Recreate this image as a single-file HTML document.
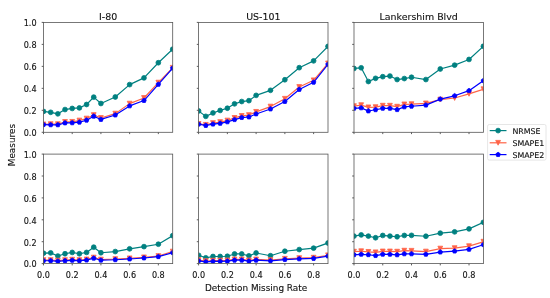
<!DOCTYPE html>
<html><head><meta charset="utf-8"><title>Detection Missing Rate</title>
<style>
html,body{margin:0;padding:0;background:#fff;width:550px;height:298px;overflow:hidden}
svg text{font-family:'DejaVu Sans', 'Liberation Sans', sans-serif;font-size:8.1px;fill:#111;stroke:#111;stroke-width:0.12px}
svg text.t{font-size:9.45px}
svg text.l{font-size:8.9px}
svg text.g{font-size:7.9px}
</style></head><body>
<svg width="550" height="298" viewBox="0 0 550 298" style="display:block">
<rect width="550" height="298" fill="#fff"/>
<defs><filter id="bl" x="0" y="0" width="1" height="1"><feGaussianBlur stdDeviation="0.4"/></filter>
<clipPath id="c00"><rect x="43.5" y="22.4" width="129.2" height="109.9"/></clipPath>
<clipPath id="c01"><rect x="198.6" y="22.4" width="129.4" height="109.9"/></clipPath>
<clipPath id="c02"><rect x="354" y="22.4" width="129.4" height="109.9"/></clipPath>
<clipPath id="c10"><rect x="43.5" y="154.1" width="129.2" height="109.5"/></clipPath>
<clipPath id="c11"><rect x="198.6" y="154.1" width="129.4" height="109.5"/></clipPath>
<clipPath id="c12"><rect x="354" y="154.1" width="129.4" height="109.5"/></clipPath>
</defs>
<g filter="url(#bl)">
<rect width="550" height="298" fill="#fff"/>
<g clip-path="url(#c00)">
<polyline points="43.5,111.42 50.68,112.3 57.86,113.84 65.03,109.55 72.21,108.45 79.39,107.9 86.57,104.5 93.74,97.13 100.92,103.51 115.28,97.02 129.63,84.6 143.99,77.9 158.34,62.73 172.7,49.22" fill="none" stroke="#008080" stroke-width="1.2" stroke-linejoin="round" stroke-linecap="square"/>
<circle cx="43.5" cy="111.42" r="2.4" fill="#008080" stroke="#008080" stroke-width="0.8"/>
<circle cx="50.68" cy="112.3" r="2.4" fill="#008080" stroke="#008080" stroke-width="0.8"/>
<circle cx="57.86" cy="113.84" r="2.4" fill="#008080" stroke="#008080" stroke-width="0.8"/>
<circle cx="65.03" cy="109.55" r="2.4" fill="#008080" stroke="#008080" stroke-width="0.8"/>
<circle cx="72.21" cy="108.45" r="2.4" fill="#008080" stroke="#008080" stroke-width="0.8"/>
<circle cx="79.39" cy="107.9" r="2.4" fill="#008080" stroke="#008080" stroke-width="0.8"/>
<circle cx="86.57" cy="104.5" r="2.4" fill="#008080" stroke="#008080" stroke-width="0.8"/>
<circle cx="93.74" cy="97.13" r="2.4" fill="#008080" stroke="#008080" stroke-width="0.8"/>
<circle cx="100.92" cy="103.51" r="2.4" fill="#008080" stroke="#008080" stroke-width="0.8"/>
<circle cx="115.28" cy="97.02" r="2.4" fill="#008080" stroke="#008080" stroke-width="0.8"/>
<circle cx="129.63" cy="84.6" r="2.4" fill="#008080" stroke="#008080" stroke-width="0.8"/>
<circle cx="143.99" cy="77.9" r="2.4" fill="#008080" stroke="#008080" stroke-width="0.8"/>
<circle cx="158.34" cy="62.73" r="2.4" fill="#008080" stroke="#008080" stroke-width="0.8"/>
<circle cx="172.7" cy="49.22" r="2.4" fill="#008080" stroke="#008080" stroke-width="0.8"/>
<polyline points="43.5,124.39 50.68,124.17 57.86,124.17 65.03,121.97 72.21,121.86 79.39,120.54 86.57,118.56 93.74,115.05 100.92,118.01 115.28,113.62 129.63,103.62 143.99,98.01 158.34,82.63 172.7,67.79" fill="none" stroke="#ff6347" stroke-width="1.2" stroke-linejoin="round" stroke-linecap="square"/>
<polygon points="41.1,121.99 45.9,121.99 43.5,126.79" fill="#ff6347" stroke="#ff6347" stroke-width="0.8" stroke-linejoin="miter"/>
<polygon points="48.28,121.77 53.08,121.77 50.68,126.57" fill="#ff6347" stroke="#ff6347" stroke-width="0.8" stroke-linejoin="miter"/>
<polygon points="55.46,121.77 60.26,121.77 57.86,126.57" fill="#ff6347" stroke="#ff6347" stroke-width="0.8" stroke-linejoin="miter"/>
<polygon points="62.63,119.57 67.43,119.57 65.03,124.37" fill="#ff6347" stroke="#ff6347" stroke-width="0.8" stroke-linejoin="miter"/>
<polygon points="69.81,119.46 74.61,119.46 72.21,124.26" fill="#ff6347" stroke="#ff6347" stroke-width="0.8" stroke-linejoin="miter"/>
<polygon points="76.99,118.14 81.79,118.14 79.39,122.94" fill="#ff6347" stroke="#ff6347" stroke-width="0.8" stroke-linejoin="miter"/>
<polygon points="84.17,116.16 88.97,116.16 86.57,120.96" fill="#ff6347" stroke="#ff6347" stroke-width="0.8" stroke-linejoin="miter"/>
<polygon points="91.34,112.65 96.14,112.65 93.74,117.45" fill="#ff6347" stroke="#ff6347" stroke-width="0.8" stroke-linejoin="miter"/>
<polygon points="98.52,115.61 103.32,115.61 100.92,120.41" fill="#ff6347" stroke="#ff6347" stroke-width="0.8" stroke-linejoin="miter"/>
<polygon points="112.88,111.22 117.68,111.22 115.28,116.02" fill="#ff6347" stroke="#ff6347" stroke-width="0.8" stroke-linejoin="miter"/>
<polygon points="127.23,101.22 132.03,101.22 129.63,106.02" fill="#ff6347" stroke="#ff6347" stroke-width="0.8" stroke-linejoin="miter"/>
<polygon points="141.59,95.61 146.39,95.61 143.99,100.41" fill="#ff6347" stroke="#ff6347" stroke-width="0.8" stroke-linejoin="miter"/>
<polygon points="155.94,80.23 160.74,80.23 158.34,85.03" fill="#ff6347" stroke="#ff6347" stroke-width="0.8" stroke-linejoin="miter"/>
<polygon points="170.3,65.39 175.1,65.39 172.7,70.19" fill="#ff6347" stroke="#ff6347" stroke-width="0.8" stroke-linejoin="miter"/>
<polyline points="43.5,124.61 50.68,124.83 57.86,124.83 65.03,122.96 72.21,122.85 79.39,122.19 86.57,120.21 93.74,116.25 100.92,119.44 115.28,115.05 129.63,105.92 143.99,100.54 158.34,84.38 172.7,68.12" fill="none" stroke="#0000ff" stroke-width="1.2" stroke-linejoin="round" stroke-linecap="square"/>
<polygon points="43.5,122.21 45.78,123.87 44.91,126.55 42.09,126.55 41.22,123.87" fill="#0000ff" stroke="#0000ff" stroke-width="0.8" stroke-linejoin="miter"/>
<polygon points="50.68,122.43 52.96,124.09 52.09,126.77 49.27,126.77 48.4,124.09" fill="#0000ff" stroke="#0000ff" stroke-width="0.8" stroke-linejoin="miter"/>
<polygon points="57.86,122.43 60.14,124.09 59.27,126.77 56.44,126.77 55.57,124.09" fill="#0000ff" stroke="#0000ff" stroke-width="0.8" stroke-linejoin="miter"/>
<polygon points="65.03,120.56 67.32,122.22 66.44,124.9 63.62,124.9 62.75,122.22" fill="#0000ff" stroke="#0000ff" stroke-width="0.8" stroke-linejoin="miter"/>
<polygon points="72.21,120.45 74.49,122.11 73.62,124.79 70.8,124.79 69.93,122.11" fill="#0000ff" stroke="#0000ff" stroke-width="0.8" stroke-linejoin="miter"/>
<polygon points="79.39,119.79 81.67,121.45 80.8,124.13 77.98,124.13 77.11,121.45" fill="#0000ff" stroke="#0000ff" stroke-width="0.8" stroke-linejoin="miter"/>
<polygon points="86.57,117.81 88.85,119.47 87.98,122.15 85.16,122.15 84.28,119.47" fill="#0000ff" stroke="#0000ff" stroke-width="0.8" stroke-linejoin="miter"/>
<polygon points="93.74,113.85 96.03,115.51 95.16,118.2 92.33,118.2 91.46,115.51" fill="#0000ff" stroke="#0000ff" stroke-width="0.8" stroke-linejoin="miter"/>
<polygon points="100.92,117.04 103.2,118.7 102.33,121.38 99.51,121.38 98.64,118.7" fill="#0000ff" stroke="#0000ff" stroke-width="0.8" stroke-linejoin="miter"/>
<polygon points="115.28,112.65 117.56,114.3 116.69,116.99 113.87,116.99 113,114.3" fill="#0000ff" stroke="#0000ff" stroke-width="0.8" stroke-linejoin="miter"/>
<polygon points="129.63,103.52 131.92,105.18 131.04,107.87 128.22,107.87 127.35,105.18" fill="#0000ff" stroke="#0000ff" stroke-width="0.8" stroke-linejoin="miter"/>
<polygon points="143.99,98.14 146.27,99.8 145.4,102.48 142.58,102.48 141.71,99.8" fill="#0000ff" stroke="#0000ff" stroke-width="0.8" stroke-linejoin="miter"/>
<polygon points="158.34,81.98 160.63,83.64 159.76,86.33 156.93,86.33 156.06,83.64" fill="#0000ff" stroke="#0000ff" stroke-width="0.8" stroke-linejoin="miter"/>
<polygon points="172.7,65.72 174.98,67.38 174.11,70.06 171.29,70.06 170.42,67.38" fill="#0000ff" stroke="#0000ff" stroke-width="0.8" stroke-linejoin="miter"/>
</g>
<path d="M41.7 132.3H43.5M41.7 110.32H43.5M41.7 88.34H43.5M41.7 66.36H43.5M41.7 44.38H43.5M41.7 22.4H43.5M43.5 132.3V134.1M72.21 132.3V134.1M100.92 132.3V134.1M129.63 132.3V134.1M158.34 132.3V134.1" stroke="#333" stroke-width="0.8" fill="none"/>
<rect x="43.5" y="22.4" width="129.2" height="109.9" fill="none" stroke="#555" stroke-width="0.8"/>
<text x="36.6" y="136.1" text-anchor="end">0.0</text>
<text x="36.6" y="114.12" text-anchor="end">0.2</text>
<text x="36.6" y="92.14" text-anchor="end">0.4</text>
<text x="36.6" y="70.16" text-anchor="end">0.6</text>
<text x="36.6" y="48.18" text-anchor="end">0.8</text>
<text x="36.6" y="26.2" text-anchor="end">1.0</text>
<text class="t" x="108.1" y="19.5" text-anchor="middle">I-80</text>
<g clip-path="url(#c01)">
<polyline points="198.6,110.98 205.79,116.36 212.98,112.96 220.17,110.43 227.36,108.23 234.54,103.84 241.73,101.53 248.92,100.65 256.11,95.37 270.49,90.32 284.87,79.77 299.24,67.68 313.62,60.87 328,46.36" fill="none" stroke="#008080" stroke-width="1.2" stroke-linejoin="round" stroke-linecap="square"/>
<circle cx="198.6" cy="110.98" r="2.4" fill="#008080" stroke="#008080" stroke-width="0.8"/>
<circle cx="205.79" cy="116.36" r="2.4" fill="#008080" stroke="#008080" stroke-width="0.8"/>
<circle cx="212.98" cy="112.96" r="2.4" fill="#008080" stroke="#008080" stroke-width="0.8"/>
<circle cx="220.17" cy="110.43" r="2.4" fill="#008080" stroke="#008080" stroke-width="0.8"/>
<circle cx="227.36" cy="108.23" r="2.4" fill="#008080" stroke="#008080" stroke-width="0.8"/>
<circle cx="234.54" cy="103.84" r="2.4" fill="#008080" stroke="#008080" stroke-width="0.8"/>
<circle cx="241.73" cy="101.53" r="2.4" fill="#008080" stroke="#008080" stroke-width="0.8"/>
<circle cx="248.92" cy="100.65" r="2.4" fill="#008080" stroke="#008080" stroke-width="0.8"/>
<circle cx="256.11" cy="95.37" r="2.4" fill="#008080" stroke="#008080" stroke-width="0.8"/>
<circle cx="270.49" cy="90.32" r="2.4" fill="#008080" stroke="#008080" stroke-width="0.8"/>
<circle cx="284.87" cy="79.77" r="2.4" fill="#008080" stroke="#008080" stroke-width="0.8"/>
<circle cx="299.24" cy="67.68" r="2.4" fill="#008080" stroke="#008080" stroke-width="0.8"/>
<circle cx="313.62" cy="60.87" r="2.4" fill="#008080" stroke="#008080" stroke-width="0.8"/>
<circle cx="328" cy="46.36" r="2.4" fill="#008080" stroke="#008080" stroke-width="0.8"/>
<polyline points="198.6,123.95 205.79,124.83 212.98,123.07 220.17,122.08 227.36,120.54 234.54,117.9 241.73,115.92 248.92,115.05 256.11,111.86 270.49,106.58 284.87,98.78 299.24,87.02 313.62,80.32 328,63.39" fill="none" stroke="#ff6347" stroke-width="1.2" stroke-linejoin="round" stroke-linecap="square"/>
<polygon points="196.2,121.55 201,121.55 198.6,126.35" fill="#ff6347" stroke="#ff6347" stroke-width="0.8" stroke-linejoin="miter"/>
<polygon points="203.39,122.43 208.19,122.43 205.79,127.23" fill="#ff6347" stroke="#ff6347" stroke-width="0.8" stroke-linejoin="miter"/>
<polygon points="210.58,120.67 215.38,120.67 212.98,125.47" fill="#ff6347" stroke="#ff6347" stroke-width="0.8" stroke-linejoin="miter"/>
<polygon points="217.77,119.68 222.57,119.68 220.17,124.48" fill="#ff6347" stroke="#ff6347" stroke-width="0.8" stroke-linejoin="miter"/>
<polygon points="224.96,118.14 229.76,118.14 227.36,122.94" fill="#ff6347" stroke="#ff6347" stroke-width="0.8" stroke-linejoin="miter"/>
<polygon points="232.14,115.5 236.94,115.5 234.54,120.3" fill="#ff6347" stroke="#ff6347" stroke-width="0.8" stroke-linejoin="miter"/>
<polygon points="239.33,113.52 244.13,113.52 241.73,118.32" fill="#ff6347" stroke="#ff6347" stroke-width="0.8" stroke-linejoin="miter"/>
<polygon points="246.52,112.65 251.32,112.65 248.92,117.45" fill="#ff6347" stroke="#ff6347" stroke-width="0.8" stroke-linejoin="miter"/>
<polygon points="253.71,109.46 258.51,109.46 256.11,114.26" fill="#ff6347" stroke="#ff6347" stroke-width="0.8" stroke-linejoin="miter"/>
<polygon points="268.09,104.18 272.89,104.18 270.49,108.98" fill="#ff6347" stroke="#ff6347" stroke-width="0.8" stroke-linejoin="miter"/>
<polygon points="282.47,96.38 287.27,96.38 284.87,101.18" fill="#ff6347" stroke="#ff6347" stroke-width="0.8" stroke-linejoin="miter"/>
<polygon points="296.84,84.62 301.64,84.62 299.24,89.42" fill="#ff6347" stroke="#ff6347" stroke-width="0.8" stroke-linejoin="miter"/>
<polygon points="311.22,77.92 316.02,77.92 313.62,82.72" fill="#ff6347" stroke="#ff6347" stroke-width="0.8" stroke-linejoin="miter"/>
<polygon points="325.6,60.99 330.4,60.99 328,65.79" fill="#ff6347" stroke="#ff6347" stroke-width="0.8" stroke-linejoin="miter"/>
<polyline points="198.6,124.17 205.79,125.49 212.98,124.17 220.17,123.4 227.36,121.86 234.54,119.66 241.73,117.57 248.92,117.02 256.11,113.95 270.49,109 284.87,101.53 299.24,89.44 313.62,82.3 328,64.38" fill="none" stroke="#0000ff" stroke-width="1.2" stroke-linejoin="round" stroke-linecap="square"/>
<polygon points="198.6,121.77 200.88,123.43 200.01,126.11 197.19,126.11 196.32,123.43" fill="#0000ff" stroke="#0000ff" stroke-width="0.8" stroke-linejoin="miter"/>
<polygon points="205.79,123.09 208.07,124.74 207.2,127.43 204.38,127.43 203.51,124.74" fill="#0000ff" stroke="#0000ff" stroke-width="0.8" stroke-linejoin="miter"/>
<polygon points="212.98,121.77 215.26,123.43 214.39,126.11 211.57,126.11 210.7,123.43" fill="#0000ff" stroke="#0000ff" stroke-width="0.8" stroke-linejoin="miter"/>
<polygon points="220.17,121 222.45,122.66 221.58,125.34 218.76,125.34 217.88,122.66" fill="#0000ff" stroke="#0000ff" stroke-width="0.8" stroke-linejoin="miter"/>
<polygon points="227.36,119.46 229.64,121.12 228.77,123.8 225.94,123.8 225.07,121.12" fill="#0000ff" stroke="#0000ff" stroke-width="0.8" stroke-linejoin="miter"/>
<polygon points="234.54,117.26 236.83,118.92 235.96,121.6 233.13,121.6 232.26,118.92" fill="#0000ff" stroke="#0000ff" stroke-width="0.8" stroke-linejoin="miter"/>
<polygon points="241.73,115.17 244.02,116.83 243.14,119.52 240.32,119.52 239.45,116.83" fill="#0000ff" stroke="#0000ff" stroke-width="0.8" stroke-linejoin="miter"/>
<polygon points="248.92,114.62 251.2,116.28 250.33,118.97 247.51,118.97 246.64,116.28" fill="#0000ff" stroke="#0000ff" stroke-width="0.8" stroke-linejoin="miter"/>
<polygon points="256.11,111.55 258.39,113.21 257.52,115.89 254.7,115.89 253.83,113.21" fill="#0000ff" stroke="#0000ff" stroke-width="0.8" stroke-linejoin="miter"/>
<polygon points="270.49,106.6 272.77,108.26 271.9,110.94 269.08,110.94 268.21,108.26" fill="#0000ff" stroke="#0000ff" stroke-width="0.8" stroke-linejoin="miter"/>
<polygon points="284.87,99.13 287.15,100.79 286.28,103.47 283.46,103.47 282.58,100.79" fill="#0000ff" stroke="#0000ff" stroke-width="0.8" stroke-linejoin="miter"/>
<polygon points="299.24,87.04 301.53,88.7 300.66,91.38 297.83,91.38 296.96,88.7" fill="#0000ff" stroke="#0000ff" stroke-width="0.8" stroke-linejoin="miter"/>
<polygon points="313.62,79.9 315.9,81.55 315.03,84.24 312.21,84.24 311.34,81.55" fill="#0000ff" stroke="#0000ff" stroke-width="0.8" stroke-linejoin="miter"/>
<polygon points="328,61.98 330.28,63.64 329.41,66.32 326.59,66.32 325.72,63.64" fill="#0000ff" stroke="#0000ff" stroke-width="0.8" stroke-linejoin="miter"/>
</g>
<path d="M196.8 132.3H198.6M196.8 110.32H198.6M196.8 88.34H198.6M196.8 66.36H198.6M196.8 44.38H198.6M196.8 22.4H198.6M198.6 132.3V134.1M227.36 132.3V134.1M256.11 132.3V134.1M284.87 132.3V134.1M313.62 132.3V134.1" stroke="#333" stroke-width="0.8" fill="none"/>
<rect x="198.6" y="22.4" width="129.4" height="109.9" fill="none" stroke="#555" stroke-width="0.8"/>
<text class="t" x="263.3" y="19.5" text-anchor="middle">US-101</text>
<g clip-path="url(#c02)">
<polyline points="354,68.45 361.19,67.79 368.38,81.53 375.57,78.34 382.76,76.69 389.94,76.03 397.13,79.55 404.32,78.56 411.51,77.24 425.89,79.55 440.27,69 454.64,65.15 469.02,59.44 483.4,46.25" fill="none" stroke="#008080" stroke-width="1.2" stroke-linejoin="round" stroke-linecap="square"/>
<circle cx="354" cy="68.45" r="2.4" fill="#008080" stroke="#008080" stroke-width="0.8"/>
<circle cx="361.19" cy="67.79" r="2.4" fill="#008080" stroke="#008080" stroke-width="0.8"/>
<circle cx="368.38" cy="81.53" r="2.4" fill="#008080" stroke="#008080" stroke-width="0.8"/>
<circle cx="375.57" cy="78.34" r="2.4" fill="#008080" stroke="#008080" stroke-width="0.8"/>
<circle cx="382.76" cy="76.69" r="2.4" fill="#008080" stroke="#008080" stroke-width="0.8"/>
<circle cx="389.94" cy="76.03" r="2.4" fill="#008080" stroke="#008080" stroke-width="0.8"/>
<circle cx="397.13" cy="79.55" r="2.4" fill="#008080" stroke="#008080" stroke-width="0.8"/>
<circle cx="404.32" cy="78.56" r="2.4" fill="#008080" stroke="#008080" stroke-width="0.8"/>
<circle cx="411.51" cy="77.24" r="2.4" fill="#008080" stroke="#008080" stroke-width="0.8"/>
<circle cx="425.89" cy="79.55" r="2.4" fill="#008080" stroke="#008080" stroke-width="0.8"/>
<circle cx="440.27" cy="69" r="2.4" fill="#008080" stroke="#008080" stroke-width="0.8"/>
<circle cx="454.64" cy="65.15" r="2.4" fill="#008080" stroke="#008080" stroke-width="0.8"/>
<circle cx="469.02" cy="59.44" r="2.4" fill="#008080" stroke="#008080" stroke-width="0.8"/>
<circle cx="483.4" cy="46.25" r="2.4" fill="#008080" stroke="#008080" stroke-width="0.8"/>
<polyline points="354,106.14 361.19,105.15 368.38,107.35 375.57,107.13 382.76,105.7 389.94,105.7 397.13,106.69 404.32,104.39 411.51,104.17 425.89,103.4 440.27,99.55 454.64,98.01 469.02,93.84 483.4,89.22" fill="none" stroke="#ff6347" stroke-width="1.2" stroke-linejoin="round" stroke-linecap="square"/>
<polygon points="351.6,103.74 356.4,103.74 354,108.54" fill="#ff6347" stroke="#ff6347" stroke-width="0.8" stroke-linejoin="miter"/>
<polygon points="358.79,102.75 363.59,102.75 361.19,107.55" fill="#ff6347" stroke="#ff6347" stroke-width="0.8" stroke-linejoin="miter"/>
<polygon points="365.98,104.95 370.78,104.95 368.38,109.75" fill="#ff6347" stroke="#ff6347" stroke-width="0.8" stroke-linejoin="miter"/>
<polygon points="373.17,104.73 377.97,104.73 375.57,109.53" fill="#ff6347" stroke="#ff6347" stroke-width="0.8" stroke-linejoin="miter"/>
<polygon points="380.36,103.3 385.16,103.3 382.76,108.1" fill="#ff6347" stroke="#ff6347" stroke-width="0.8" stroke-linejoin="miter"/>
<polygon points="387.54,103.3 392.34,103.3 389.94,108.1" fill="#ff6347" stroke="#ff6347" stroke-width="0.8" stroke-linejoin="miter"/>
<polygon points="394.73,104.29 399.53,104.29 397.13,109.09" fill="#ff6347" stroke="#ff6347" stroke-width="0.8" stroke-linejoin="miter"/>
<polygon points="401.92,101.99 406.72,101.99 404.32,106.79" fill="#ff6347" stroke="#ff6347" stroke-width="0.8" stroke-linejoin="miter"/>
<polygon points="409.11,101.77 413.91,101.77 411.51,106.57" fill="#ff6347" stroke="#ff6347" stroke-width="0.8" stroke-linejoin="miter"/>
<polygon points="423.49,101 428.29,101 425.89,105.8" fill="#ff6347" stroke="#ff6347" stroke-width="0.8" stroke-linejoin="miter"/>
<polygon points="437.87,97.15 442.67,97.15 440.27,101.95" fill="#ff6347" stroke="#ff6347" stroke-width="0.8" stroke-linejoin="miter"/>
<polygon points="452.24,95.61 457.04,95.61 454.64,100.41" fill="#ff6347" stroke="#ff6347" stroke-width="0.8" stroke-linejoin="miter"/>
<polygon points="466.62,91.44 471.42,91.44 469.02,96.24" fill="#ff6347" stroke="#ff6347" stroke-width="0.8" stroke-linejoin="miter"/>
<polygon points="481,86.82 485.8,86.82 483.4,91.62" fill="#ff6347" stroke="#ff6347" stroke-width="0.8" stroke-linejoin="miter"/>
<polyline points="354,108.34 361.19,107.9 368.38,110.98 375.57,109.77 382.76,108.34 389.94,108.34 397.13,109.66 404.32,106.91 411.51,106.25 425.89,105.15 440.27,99.11 454.64,95.81 469.02,90.65 483.4,80.65" fill="none" stroke="#0000ff" stroke-width="1.2" stroke-linejoin="round" stroke-linecap="square"/>
<polygon points="354,105.94 356.28,107.6 355.41,110.28 352.59,110.28 351.72,107.6" fill="#0000ff" stroke="#0000ff" stroke-width="0.8" stroke-linejoin="miter"/>
<polygon points="361.19,105.5 363.47,107.16 362.6,109.84 359.78,109.84 358.91,107.16" fill="#0000ff" stroke="#0000ff" stroke-width="0.8" stroke-linejoin="miter"/>
<polygon points="368.38,108.58 370.66,110.24 369.79,112.92 366.97,112.92 366.1,110.24" fill="#0000ff" stroke="#0000ff" stroke-width="0.8" stroke-linejoin="miter"/>
<polygon points="375.57,107.37 377.85,109.03 376.98,111.71 374.16,111.71 373.28,109.03" fill="#0000ff" stroke="#0000ff" stroke-width="0.8" stroke-linejoin="miter"/>
<polygon points="382.76,105.94 385.04,107.6 384.17,110.28 381.34,110.28 380.47,107.6" fill="#0000ff" stroke="#0000ff" stroke-width="0.8" stroke-linejoin="miter"/>
<polygon points="389.94,105.94 392.23,107.6 391.36,110.28 388.53,110.28 387.66,107.6" fill="#0000ff" stroke="#0000ff" stroke-width="0.8" stroke-linejoin="miter"/>
<polygon points="397.13,107.26 399.42,108.92 398.54,111.6 395.72,111.6 394.85,108.92" fill="#0000ff" stroke="#0000ff" stroke-width="0.8" stroke-linejoin="miter"/>
<polygon points="404.32,104.51 406.6,106.17 405.73,108.85 402.91,108.85 402.04,106.17" fill="#0000ff" stroke="#0000ff" stroke-width="0.8" stroke-linejoin="miter"/>
<polygon points="411.51,103.85 413.79,105.51 412.92,108.2 410.1,108.2 409.23,105.51" fill="#0000ff" stroke="#0000ff" stroke-width="0.8" stroke-linejoin="miter"/>
<polygon points="425.89,102.75 428.17,104.41 427.3,107.1 424.48,107.1 423.61,104.41" fill="#0000ff" stroke="#0000ff" stroke-width="0.8" stroke-linejoin="miter"/>
<polygon points="440.27,96.71 442.55,98.37 441.68,101.05 438.86,101.05 437.98,98.37" fill="#0000ff" stroke="#0000ff" stroke-width="0.8" stroke-linejoin="miter"/>
<polygon points="454.64,93.41 456.93,95.07 456.06,97.75 453.23,97.75 452.36,95.07" fill="#0000ff" stroke="#0000ff" stroke-width="0.8" stroke-linejoin="miter"/>
<polygon points="469.02,88.25 471.3,89.91 470.43,92.59 467.61,92.59 466.74,89.91" fill="#0000ff" stroke="#0000ff" stroke-width="0.8" stroke-linejoin="miter"/>
<polygon points="483.4,78.25 485.68,79.91 484.81,82.59 481.99,82.59 481.12,79.91" fill="#0000ff" stroke="#0000ff" stroke-width="0.8" stroke-linejoin="miter"/>
</g>
<path d="M352.2 132.3H354M352.2 110.32H354M352.2 88.34H354M352.2 66.36H354M352.2 44.38H354M352.2 22.4H354M354 132.3V134.1M382.76 132.3V134.1M411.51 132.3V134.1M440.27 132.3V134.1M469.02 132.3V134.1" stroke="#333" stroke-width="0.8" fill="none"/>
<rect x="354" y="22.4" width="129.4" height="109.9" fill="none" stroke="#555" stroke-width="0.8"/>
<text class="t" x="418.7" y="19.5" text-anchor="middle">Lankershim Blvd</text>
<g clip-path="url(#c10)">
<polyline points="43.5,253.2 50.68,252.87 57.86,256.04 65.03,253.75 72.21,252.43 79.39,253.75 86.57,252.43 93.74,247.18 100.92,252.76 115.28,251.56 129.63,248.82 143.99,246.63 158.34,244.22 172.7,235.68" fill="none" stroke="#008080" stroke-width="1.2" stroke-linejoin="round" stroke-linecap="square"/>
<circle cx="43.5" cy="253.2" r="2.4" fill="#008080" stroke="#008080" stroke-width="0.8"/>
<circle cx="50.68" cy="252.87" r="2.4" fill="#008080" stroke="#008080" stroke-width="0.8"/>
<circle cx="57.86" cy="256.04" r="2.4" fill="#008080" stroke="#008080" stroke-width="0.8"/>
<circle cx="65.03" cy="253.75" r="2.4" fill="#008080" stroke="#008080" stroke-width="0.8"/>
<circle cx="72.21" cy="252.43" r="2.4" fill="#008080" stroke="#008080" stroke-width="0.8"/>
<circle cx="79.39" cy="253.75" r="2.4" fill="#008080" stroke="#008080" stroke-width="0.8"/>
<circle cx="86.57" cy="252.43" r="2.4" fill="#008080" stroke="#008080" stroke-width="0.8"/>
<circle cx="93.74" cy="247.18" r="2.4" fill="#008080" stroke="#008080" stroke-width="0.8"/>
<circle cx="100.92" cy="252.76" r="2.4" fill="#008080" stroke="#008080" stroke-width="0.8"/>
<circle cx="115.28" cy="251.56" r="2.4" fill="#008080" stroke="#008080" stroke-width="0.8"/>
<circle cx="129.63" cy="248.82" r="2.4" fill="#008080" stroke="#008080" stroke-width="0.8"/>
<circle cx="143.99" cy="246.63" r="2.4" fill="#008080" stroke="#008080" stroke-width="0.8"/>
<circle cx="158.34" cy="244.22" r="2.4" fill="#008080" stroke="#008080" stroke-width="0.8"/>
<circle cx="172.7" cy="235.68" r="2.4" fill="#008080" stroke="#008080" stroke-width="0.8"/>
<polyline points="43.5,260.1 50.68,260.1 57.86,260.64 65.03,260.1 72.21,259.66 79.39,260.1 86.57,259.44 93.74,257.58 100.92,259.55 115.28,259.11 129.63,258.34 143.99,257.36 158.34,256.04 172.7,251.56" fill="none" stroke="#ff6347" stroke-width="1.2" stroke-linejoin="round" stroke-linecap="square"/>
<polygon points="41.1,257.7 45.9,257.7 43.5,262.5" fill="#ff6347" stroke="#ff6347" stroke-width="0.8" stroke-linejoin="miter"/>
<polygon points="48.28,257.7 53.08,257.7 50.68,262.5" fill="#ff6347" stroke="#ff6347" stroke-width="0.8" stroke-linejoin="miter"/>
<polygon points="55.46,258.24 60.26,258.24 57.86,263.04" fill="#ff6347" stroke="#ff6347" stroke-width="0.8" stroke-linejoin="miter"/>
<polygon points="62.63,257.7 67.43,257.7 65.03,262.5" fill="#ff6347" stroke="#ff6347" stroke-width="0.8" stroke-linejoin="miter"/>
<polygon points="69.81,257.26 74.61,257.26 72.21,262.06" fill="#ff6347" stroke="#ff6347" stroke-width="0.8" stroke-linejoin="miter"/>
<polygon points="76.99,257.7 81.79,257.7 79.39,262.5" fill="#ff6347" stroke="#ff6347" stroke-width="0.8" stroke-linejoin="miter"/>
<polygon points="84.17,257.04 88.97,257.04 86.57,261.84" fill="#ff6347" stroke="#ff6347" stroke-width="0.8" stroke-linejoin="miter"/>
<polygon points="91.34,255.18 96.14,255.18 93.74,259.98" fill="#ff6347" stroke="#ff6347" stroke-width="0.8" stroke-linejoin="miter"/>
<polygon points="98.52,257.15 103.32,257.15 100.92,261.95" fill="#ff6347" stroke="#ff6347" stroke-width="0.8" stroke-linejoin="miter"/>
<polygon points="112.88,256.71 117.68,256.71 115.28,261.51" fill="#ff6347" stroke="#ff6347" stroke-width="0.8" stroke-linejoin="miter"/>
<polygon points="127.23,255.94 132.03,255.94 129.63,260.74" fill="#ff6347" stroke="#ff6347" stroke-width="0.8" stroke-linejoin="miter"/>
<polygon points="141.59,254.96 146.39,254.96 143.99,259.76" fill="#ff6347" stroke="#ff6347" stroke-width="0.8" stroke-linejoin="miter"/>
<polygon points="155.94,253.64 160.74,253.64 158.34,258.44" fill="#ff6347" stroke="#ff6347" stroke-width="0.8" stroke-linejoin="miter"/>
<polygon points="170.3,249.16 175.1,249.16 172.7,253.96" fill="#ff6347" stroke="#ff6347" stroke-width="0.8" stroke-linejoin="miter"/>
<polyline points="43.5,260.75 50.68,260.75 57.86,261.3 65.03,260.75 72.21,260.31 79.39,260.75 86.57,260.1 93.74,258.23 100.92,260.21 115.28,259.77 129.63,259 143.99,258.02 158.34,256.7 172.7,252.65" fill="none" stroke="#0000ff" stroke-width="1.2" stroke-linejoin="round" stroke-linecap="square"/>
<polygon points="43.5,258.35 45.78,260.01 44.91,262.69 42.09,262.69 41.22,260.01" fill="#0000ff" stroke="#0000ff" stroke-width="0.8" stroke-linejoin="miter"/>
<polygon points="50.68,258.35 52.96,260.01 52.09,262.69 49.27,262.69 48.4,260.01" fill="#0000ff" stroke="#0000ff" stroke-width="0.8" stroke-linejoin="miter"/>
<polygon points="57.86,258.9 60.14,260.56 59.27,263.24 56.44,263.24 55.57,260.56" fill="#0000ff" stroke="#0000ff" stroke-width="0.8" stroke-linejoin="miter"/>
<polygon points="65.03,258.35 67.32,260.01 66.44,262.69 63.62,262.69 62.75,260.01" fill="#0000ff" stroke="#0000ff" stroke-width="0.8" stroke-linejoin="miter"/>
<polygon points="72.21,257.92 74.49,259.57 73.62,262.26 70.8,262.26 69.93,259.57" fill="#0000ff" stroke="#0000ff" stroke-width="0.8" stroke-linejoin="miter"/>
<polygon points="79.39,258.35 81.67,260.01 80.8,262.69 77.98,262.69 77.11,260.01" fill="#0000ff" stroke="#0000ff" stroke-width="0.8" stroke-linejoin="miter"/>
<polygon points="86.57,257.7 88.85,259.35 87.98,262.04 85.16,262.04 84.28,259.35" fill="#0000ff" stroke="#0000ff" stroke-width="0.8" stroke-linejoin="miter"/>
<polygon points="93.74,255.83 96.03,257.49 95.16,260.18 92.33,260.18 91.46,257.49" fill="#0000ff" stroke="#0000ff" stroke-width="0.8" stroke-linejoin="miter"/>
<polygon points="100.92,257.81 103.2,259.46 102.33,262.15 99.51,262.15 98.64,259.46" fill="#0000ff" stroke="#0000ff" stroke-width="0.8" stroke-linejoin="miter"/>
<polygon points="115.28,257.37 117.56,259.03 116.69,261.71 113.87,261.71 113,259.03" fill="#0000ff" stroke="#0000ff" stroke-width="0.8" stroke-linejoin="miter"/>
<polygon points="129.63,256.6 131.92,258.26 131.04,260.94 128.22,260.94 127.35,258.26" fill="#0000ff" stroke="#0000ff" stroke-width="0.8" stroke-linejoin="miter"/>
<polygon points="143.99,255.62 146.27,257.27 145.4,259.96 142.58,259.96 141.71,257.27" fill="#0000ff" stroke="#0000ff" stroke-width="0.8" stroke-linejoin="miter"/>
<polygon points="158.34,254.3 160.63,255.96 159.76,258.64 156.93,258.64 156.06,255.96" fill="#0000ff" stroke="#0000ff" stroke-width="0.8" stroke-linejoin="miter"/>
<polygon points="172.7,250.25 174.98,251.91 174.11,254.59 171.29,254.59 170.42,251.91" fill="#0000ff" stroke="#0000ff" stroke-width="0.8" stroke-linejoin="miter"/>
</g>
<path d="M41.7 263.6H43.5M41.7 241.7H43.5M41.7 219.8H43.5M41.7 197.9H43.5M41.7 176H43.5M41.7 154.1H43.5M43.5 263.6V265.4M72.21 263.6V265.4M100.92 263.6V265.4M129.63 263.6V265.4M158.34 263.6V265.4" stroke="#333" stroke-width="0.8" fill="none"/>
<rect x="43.5" y="154.1" width="129.2" height="109.5" fill="none" stroke="#555" stroke-width="0.8"/>
<text x="36.6" y="267.4" text-anchor="end">0.0</text>
<text x="36.6" y="245.5" text-anchor="end">0.2</text>
<text x="36.6" y="223.6" text-anchor="end">0.4</text>
<text x="36.6" y="201.7" text-anchor="end">0.6</text>
<text x="36.6" y="179.8" text-anchor="end">0.8</text>
<text x="36.6" y="157.9" text-anchor="end">1.0</text>
<text x="43.5" y="277.9" text-anchor="middle">0.0</text>
<text x="72.21" y="277.9" text-anchor="middle">0.2</text>
<text x="100.92" y="277.9" text-anchor="middle">0.4</text>
<text x="129.63" y="277.9" text-anchor="middle">0.6</text>
<text x="158.34" y="277.9" text-anchor="middle">0.8</text>
<g clip-path="url(#c11)">
<polyline points="198.6,255.28 205.79,257.8 212.98,256.48 220.17,256.48 227.36,256.26 234.54,253.96 241.73,253.96 248.92,255.83 256.11,252.98 270.49,255.72 284.87,251.23 299.24,249.58 313.62,248.16 328,243.01" fill="none" stroke="#008080" stroke-width="1.2" stroke-linejoin="round" stroke-linecap="square"/>
<circle cx="198.6" cy="255.28" r="2.4" fill="#008080" stroke="#008080" stroke-width="0.8"/>
<circle cx="205.79" cy="257.8" r="2.4" fill="#008080" stroke="#008080" stroke-width="0.8"/>
<circle cx="212.98" cy="256.48" r="2.4" fill="#008080" stroke="#008080" stroke-width="0.8"/>
<circle cx="220.17" cy="256.48" r="2.4" fill="#008080" stroke="#008080" stroke-width="0.8"/>
<circle cx="227.36" cy="256.26" r="2.4" fill="#008080" stroke="#008080" stroke-width="0.8"/>
<circle cx="234.54" cy="253.96" r="2.4" fill="#008080" stroke="#008080" stroke-width="0.8"/>
<circle cx="241.73" cy="253.96" r="2.4" fill="#008080" stroke="#008080" stroke-width="0.8"/>
<circle cx="248.92" cy="255.83" r="2.4" fill="#008080" stroke="#008080" stroke-width="0.8"/>
<circle cx="256.11" cy="252.98" r="2.4" fill="#008080" stroke="#008080" stroke-width="0.8"/>
<circle cx="270.49" cy="255.72" r="2.4" fill="#008080" stroke="#008080" stroke-width="0.8"/>
<circle cx="284.87" cy="251.23" r="2.4" fill="#008080" stroke="#008080" stroke-width="0.8"/>
<circle cx="299.24" cy="249.58" r="2.4" fill="#008080" stroke="#008080" stroke-width="0.8"/>
<circle cx="313.62" cy="248.16" r="2.4" fill="#008080" stroke="#008080" stroke-width="0.8"/>
<circle cx="328" cy="243.01" r="2.4" fill="#008080" stroke="#008080" stroke-width="0.8"/>
<polyline points="198.6,260.1 205.79,261.08 212.98,260.64 220.17,260.64 227.36,260.42 234.54,259.44 241.73,259.44 248.92,260.42 256.11,259.44 270.49,260.1 284.87,258.78 299.24,258.12 313.62,257.69 328,255.28" fill="none" stroke="#ff6347" stroke-width="1.2" stroke-linejoin="round" stroke-linecap="square"/>
<polygon points="196.2,257.7 201,257.7 198.6,262.5" fill="#ff6347" stroke="#ff6347" stroke-width="0.8" stroke-linejoin="miter"/>
<polygon points="203.39,258.68 208.19,258.68 205.79,263.48" fill="#ff6347" stroke="#ff6347" stroke-width="0.8" stroke-linejoin="miter"/>
<polygon points="210.58,258.24 215.38,258.24 212.98,263.04" fill="#ff6347" stroke="#ff6347" stroke-width="0.8" stroke-linejoin="miter"/>
<polygon points="217.77,258.24 222.57,258.24 220.17,263.04" fill="#ff6347" stroke="#ff6347" stroke-width="0.8" stroke-linejoin="miter"/>
<polygon points="224.96,258.02 229.76,258.02 227.36,262.82" fill="#ff6347" stroke="#ff6347" stroke-width="0.8" stroke-linejoin="miter"/>
<polygon points="232.14,257.04 236.94,257.04 234.54,261.84" fill="#ff6347" stroke="#ff6347" stroke-width="0.8" stroke-linejoin="miter"/>
<polygon points="239.33,257.04 244.13,257.04 241.73,261.84" fill="#ff6347" stroke="#ff6347" stroke-width="0.8" stroke-linejoin="miter"/>
<polygon points="246.52,258.02 251.32,258.02 248.92,262.82" fill="#ff6347" stroke="#ff6347" stroke-width="0.8" stroke-linejoin="miter"/>
<polygon points="253.71,257.04 258.51,257.04 256.11,261.84" fill="#ff6347" stroke="#ff6347" stroke-width="0.8" stroke-linejoin="miter"/>
<polygon points="268.09,257.7 272.89,257.7 270.49,262.5" fill="#ff6347" stroke="#ff6347" stroke-width="0.8" stroke-linejoin="miter"/>
<polygon points="282.47,256.38 287.27,256.38 284.87,261.18" fill="#ff6347" stroke="#ff6347" stroke-width="0.8" stroke-linejoin="miter"/>
<polygon points="296.84,255.72 301.64,255.72 299.24,260.52" fill="#ff6347" stroke="#ff6347" stroke-width="0.8" stroke-linejoin="miter"/>
<polygon points="311.22,255.29 316.02,255.29 313.62,260.09" fill="#ff6347" stroke="#ff6347" stroke-width="0.8" stroke-linejoin="miter"/>
<polygon points="325.6,252.88 330.4,252.88 328,257.68" fill="#ff6347" stroke="#ff6347" stroke-width="0.8" stroke-linejoin="miter"/>
<polyline points="198.6,260.86 205.79,261.85 212.98,261.41 220.17,261.41 227.36,261.19 234.54,260.21 241.73,260.21 248.92,261.19 256.11,260.21 270.49,260.86 284.87,259.55 299.24,258.89 313.62,258.45 328,256.04" fill="none" stroke="#0000ff" stroke-width="1.2" stroke-linejoin="round" stroke-linecap="square"/>
<polygon points="198.6,258.46 200.88,260.12 200.01,262.8 197.19,262.8 196.32,260.12" fill="#0000ff" stroke="#0000ff" stroke-width="0.8" stroke-linejoin="miter"/>
<polygon points="205.79,259.45 208.07,261.11 207.2,263.79 204.38,263.79 203.51,261.11" fill="#0000ff" stroke="#0000ff" stroke-width="0.8" stroke-linejoin="miter"/>
<polygon points="212.98,259.01 215.26,260.67 214.39,263.35 211.57,263.35 210.7,260.67" fill="#0000ff" stroke="#0000ff" stroke-width="0.8" stroke-linejoin="miter"/>
<polygon points="220.17,259.01 222.45,260.67 221.58,263.35 218.76,263.35 217.88,260.67" fill="#0000ff" stroke="#0000ff" stroke-width="0.8" stroke-linejoin="miter"/>
<polygon points="227.36,258.79 229.64,260.45 228.77,263.13 225.94,263.13 225.07,260.45" fill="#0000ff" stroke="#0000ff" stroke-width="0.8" stroke-linejoin="miter"/>
<polygon points="234.54,257.81 236.83,259.46 235.96,262.15 233.13,262.15 232.26,259.46" fill="#0000ff" stroke="#0000ff" stroke-width="0.8" stroke-linejoin="miter"/>
<polygon points="241.73,257.81 244.02,259.46 243.14,262.15 240.32,262.15 239.45,259.46" fill="#0000ff" stroke="#0000ff" stroke-width="0.8" stroke-linejoin="miter"/>
<polygon points="248.92,258.79 251.2,260.45 250.33,263.13 247.51,263.13 246.64,260.45" fill="#0000ff" stroke="#0000ff" stroke-width="0.8" stroke-linejoin="miter"/>
<polygon points="256.11,257.81 258.39,259.46 257.52,262.15 254.7,262.15 253.83,259.46" fill="#0000ff" stroke="#0000ff" stroke-width="0.8" stroke-linejoin="miter"/>
<polygon points="270.49,258.46 272.77,260.12 271.9,262.8 269.08,262.8 268.21,260.12" fill="#0000ff" stroke="#0000ff" stroke-width="0.8" stroke-linejoin="miter"/>
<polygon points="284.87,257.15 287.15,258.81 286.28,261.49 283.46,261.49 282.58,258.81" fill="#0000ff" stroke="#0000ff" stroke-width="0.8" stroke-linejoin="miter"/>
<polygon points="299.24,256.49 301.53,258.15 300.66,260.83 297.83,260.83 296.96,258.15" fill="#0000ff" stroke="#0000ff" stroke-width="0.8" stroke-linejoin="miter"/>
<polygon points="313.62,256.05 315.9,257.71 315.03,260.4 312.21,260.4 311.34,257.71" fill="#0000ff" stroke="#0000ff" stroke-width="0.8" stroke-linejoin="miter"/>
<polygon points="328,253.64 330.28,255.3 329.41,257.99 326.59,257.99 325.72,255.3" fill="#0000ff" stroke="#0000ff" stroke-width="0.8" stroke-linejoin="miter"/>
</g>
<path d="M196.8 263.6H198.6M196.8 241.7H198.6M196.8 219.8H198.6M196.8 197.9H198.6M196.8 176H198.6M196.8 154.1H198.6M198.6 263.6V265.4M227.36 263.6V265.4M256.11 263.6V265.4M284.87 263.6V265.4M313.62 263.6V265.4" stroke="#333" stroke-width="0.8" fill="none"/>
<rect x="198.6" y="154.1" width="129.4" height="109.5" fill="none" stroke="#555" stroke-width="0.8"/>
<text x="198.6" y="277.9" text-anchor="middle">0.0</text>
<text x="227.36" y="277.9" text-anchor="middle">0.2</text>
<text x="256.11" y="277.9" text-anchor="middle">0.4</text>
<text x="284.87" y="277.9" text-anchor="middle">0.6</text>
<text x="313.62" y="277.9" text-anchor="middle">0.8</text>
<g clip-path="url(#c12)">
<polyline points="354,236.12 361.19,234.91 368.38,236.12 375.57,237.76 382.76,235.46 389.94,236.12 397.13,236.77 404.32,235.46 411.51,235.35 425.89,236.23 440.27,233.16 454.64,231.85 469.02,228.89 483.4,222.32" fill="none" stroke="#008080" stroke-width="1.2" stroke-linejoin="round" stroke-linecap="square"/>
<circle cx="354" cy="236.12" r="2.4" fill="#008080" stroke="#008080" stroke-width="0.8"/>
<circle cx="361.19" cy="234.91" r="2.4" fill="#008080" stroke="#008080" stroke-width="0.8"/>
<circle cx="368.38" cy="236.12" r="2.4" fill="#008080" stroke="#008080" stroke-width="0.8"/>
<circle cx="375.57" cy="237.76" r="2.4" fill="#008080" stroke="#008080" stroke-width="0.8"/>
<circle cx="382.76" cy="235.46" r="2.4" fill="#008080" stroke="#008080" stroke-width="0.8"/>
<circle cx="389.94" cy="236.12" r="2.4" fill="#008080" stroke="#008080" stroke-width="0.8"/>
<circle cx="397.13" cy="236.77" r="2.4" fill="#008080" stroke="#008080" stroke-width="0.8"/>
<circle cx="404.32" cy="235.46" r="2.4" fill="#008080" stroke="#008080" stroke-width="0.8"/>
<circle cx="411.51" cy="235.35" r="2.4" fill="#008080" stroke="#008080" stroke-width="0.8"/>
<circle cx="425.89" cy="236.23" r="2.4" fill="#008080" stroke="#008080" stroke-width="0.8"/>
<circle cx="440.27" cy="233.16" r="2.4" fill="#008080" stroke="#008080" stroke-width="0.8"/>
<circle cx="454.64" cy="231.85" r="2.4" fill="#008080" stroke="#008080" stroke-width="0.8"/>
<circle cx="469.02" cy="228.89" r="2.4" fill="#008080" stroke="#008080" stroke-width="0.8"/>
<circle cx="483.4" cy="222.32" r="2.4" fill="#008080" stroke="#008080" stroke-width="0.8"/>
<polyline points="354,251.66 361.19,251.23 368.38,251.88 375.57,252.32 382.76,251.45 389.94,251.45 397.13,251.66 404.32,250.68 411.51,250.79 425.89,251.56 440.27,248.6 454.64,248.16 469.02,246.19 483.4,241.7" fill="none" stroke="#ff6347" stroke-width="1.2" stroke-linejoin="round" stroke-linecap="square"/>
<polygon points="351.6,249.26 356.4,249.26 354,254.06" fill="#ff6347" stroke="#ff6347" stroke-width="0.8" stroke-linejoin="miter"/>
<polygon points="358.79,248.83 363.59,248.83 361.19,253.63" fill="#ff6347" stroke="#ff6347" stroke-width="0.8" stroke-linejoin="miter"/>
<polygon points="365.98,249.48 370.78,249.48 368.38,254.28" fill="#ff6347" stroke="#ff6347" stroke-width="0.8" stroke-linejoin="miter"/>
<polygon points="373.17,249.92 377.97,249.92 375.57,254.72" fill="#ff6347" stroke="#ff6347" stroke-width="0.8" stroke-linejoin="miter"/>
<polygon points="380.36,249.05 385.16,249.05 382.76,253.85" fill="#ff6347" stroke="#ff6347" stroke-width="0.8" stroke-linejoin="miter"/>
<polygon points="387.54,249.05 392.34,249.05 389.94,253.85" fill="#ff6347" stroke="#ff6347" stroke-width="0.8" stroke-linejoin="miter"/>
<polygon points="394.73,249.26 399.53,249.26 397.13,254.06" fill="#ff6347" stroke="#ff6347" stroke-width="0.8" stroke-linejoin="miter"/>
<polygon points="401.92,248.28 406.72,248.28 404.32,253.08" fill="#ff6347" stroke="#ff6347" stroke-width="0.8" stroke-linejoin="miter"/>
<polygon points="409.11,248.39 413.91,248.39 411.51,253.19" fill="#ff6347" stroke="#ff6347" stroke-width="0.8" stroke-linejoin="miter"/>
<polygon points="423.49,249.16 428.29,249.16 425.89,253.96" fill="#ff6347" stroke="#ff6347" stroke-width="0.8" stroke-linejoin="miter"/>
<polygon points="437.87,246.2 442.67,246.2 440.27,251" fill="#ff6347" stroke="#ff6347" stroke-width="0.8" stroke-linejoin="miter"/>
<polygon points="452.24,245.76 457.04,245.76 454.64,250.56" fill="#ff6347" stroke="#ff6347" stroke-width="0.8" stroke-linejoin="miter"/>
<polygon points="466.62,243.79 471.42,243.79 469.02,248.59" fill="#ff6347" stroke="#ff6347" stroke-width="0.8" stroke-linejoin="miter"/>
<polygon points="481,239.3 485.8,239.3 483.4,244.1" fill="#ff6347" stroke="#ff6347" stroke-width="0.8" stroke-linejoin="miter"/>
<polyline points="354,254.73 361.19,254.29 368.38,254.73 375.57,255.61 382.76,254.29 389.94,254.29 397.13,254.84 404.32,253.85 411.51,253.85 425.89,254.29 440.27,252.1 454.64,251.12 469.02,249.37 483.4,244.66" fill="none" stroke="#0000ff" stroke-width="1.2" stroke-linejoin="round" stroke-linecap="square"/>
<polygon points="354,252.33 356.28,253.99 355.41,256.67 352.59,256.67 351.72,253.99" fill="#0000ff" stroke="#0000ff" stroke-width="0.8" stroke-linejoin="miter"/>
<polygon points="361.19,251.89 363.47,253.55 362.6,256.23 359.78,256.23 358.91,253.55" fill="#0000ff" stroke="#0000ff" stroke-width="0.8" stroke-linejoin="miter"/>
<polygon points="368.38,252.33 370.66,253.99 369.79,256.67 366.97,256.67 366.1,253.99" fill="#0000ff" stroke="#0000ff" stroke-width="0.8" stroke-linejoin="miter"/>
<polygon points="375.57,253.21 377.85,254.86 376.98,257.55 374.16,257.55 373.28,254.86" fill="#0000ff" stroke="#0000ff" stroke-width="0.8" stroke-linejoin="miter"/>
<polygon points="382.76,251.89 385.04,253.55 384.17,256.23 381.34,256.23 380.47,253.55" fill="#0000ff" stroke="#0000ff" stroke-width="0.8" stroke-linejoin="miter"/>
<polygon points="389.94,251.89 392.23,253.55 391.36,256.23 388.53,256.23 387.66,253.55" fill="#0000ff" stroke="#0000ff" stroke-width="0.8" stroke-linejoin="miter"/>
<polygon points="397.13,252.44 399.42,254.1 398.54,256.78 395.72,256.78 394.85,254.1" fill="#0000ff" stroke="#0000ff" stroke-width="0.8" stroke-linejoin="miter"/>
<polygon points="404.32,251.45 406.6,253.11 405.73,255.8 402.91,255.8 402.04,253.11" fill="#0000ff" stroke="#0000ff" stroke-width="0.8" stroke-linejoin="miter"/>
<polygon points="411.51,251.45 413.79,253.11 412.92,255.8 410.1,255.8 409.23,253.11" fill="#0000ff" stroke="#0000ff" stroke-width="0.8" stroke-linejoin="miter"/>
<polygon points="425.89,251.89 428.17,253.55 427.3,256.23 424.48,256.23 423.61,253.55" fill="#0000ff" stroke="#0000ff" stroke-width="0.8" stroke-linejoin="miter"/>
<polygon points="440.27,249.7 442.55,251.36 441.68,254.04 438.86,254.04 437.98,251.36" fill="#0000ff" stroke="#0000ff" stroke-width="0.8" stroke-linejoin="miter"/>
<polygon points="454.64,248.72 456.93,250.38 456.06,253.06 453.23,253.06 452.36,250.38" fill="#0000ff" stroke="#0000ff" stroke-width="0.8" stroke-linejoin="miter"/>
<polygon points="469.02,246.97 471.3,248.62 470.43,251.31 467.61,251.31 466.74,248.62" fill="#0000ff" stroke="#0000ff" stroke-width="0.8" stroke-linejoin="miter"/>
<polygon points="483.4,242.26 485.68,243.91 484.81,246.6 481.99,246.6 481.12,243.91" fill="#0000ff" stroke="#0000ff" stroke-width="0.8" stroke-linejoin="miter"/>
</g>
<path d="M352.2 263.6H354M352.2 241.7H354M352.2 219.8H354M352.2 197.9H354M352.2 176H354M352.2 154.1H354M354 263.6V265.4M382.76 263.6V265.4M411.51 263.6V265.4M440.27 263.6V265.4M469.02 263.6V265.4" stroke="#333" stroke-width="0.8" fill="none"/>
<rect x="354" y="154.1" width="129.4" height="109.5" fill="none" stroke="#555" stroke-width="0.8"/>
<text x="354" y="277.9" text-anchor="middle">0.0</text>
<text x="382.76" y="277.9" text-anchor="middle">0.2</text>
<text x="411.51" y="277.9" text-anchor="middle">0.4</text>
<text x="440.27" y="277.9" text-anchor="middle">0.6</text>
<text x="469.02" y="277.9" text-anchor="middle">0.8</text>
<text class="l" x="205.0" y="290.9">Detection Missing Rate</text>
<text class="l" transform="translate(14.9 145.1) rotate(-90)" text-anchor="middle">Measures</text>
<rect x="487.6" y="124.5" width="58.4" height="35.6" rx="1.6" fill="#fff" fill-opacity="0.8" stroke="#e0e0e0" stroke-width="0.8"/>
<path d="M489.7 130.6H506.5" stroke="#008080" stroke-width="1.2"/>
<circle cx="498.1" cy="130.6" r="2.4" fill="#008080" stroke="#008080" stroke-width="0.8"/>
<text class="g" x="512.4" y="133.6">NRMSE</text>
<path d="M489.7 142.8H506.5" stroke="#ff6347" stroke-width="1.2"/>
<polygon points="495.7,140.4 500.5,140.4 498.1,145.2" fill="#ff6347" stroke="#ff6347" stroke-width="0.8" stroke-linejoin="miter"/>
<text class="g" x="512.4" y="145.8">SMAPE1</text>
<path d="M489.7 154.6H506.5" stroke="#0000ff" stroke-width="1.2"/>
<polygon points="498.1,152.2 500.38,153.86 499.51,156.54 496.69,156.54 495.82,153.86" fill="#0000ff" stroke="#0000ff" stroke-width="0.8" stroke-linejoin="miter"/>
<text class="g" x="512.4" y="157.6">SMAPE2</text>
</g>
</svg>
</body></html>
